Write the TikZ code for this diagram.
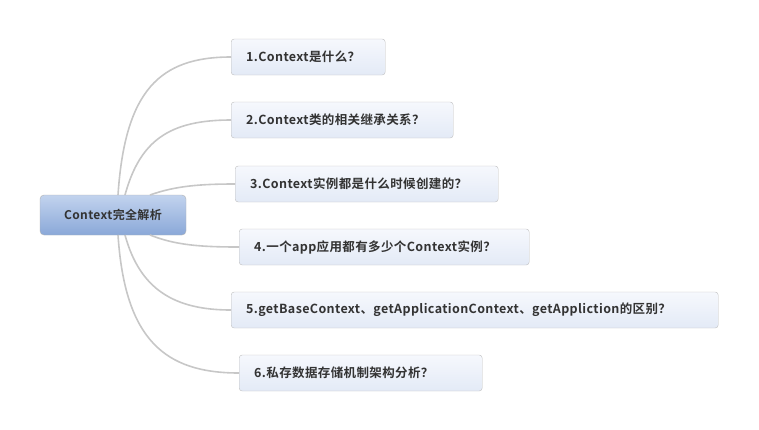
\documentclass[tikz,border=0pt]{standalone}
\usepackage{fontspec}
\setmainfont{Noto Sans CJK SC}[BoldFont={Noto Sans CJK SC Bold},LetterSpace=3]
\definecolor{rt}{HTML}{C2D3EE}
\definecolor{rb}{HTML}{8AA8D8}
\definecolor{tt}{HTML}{F6F8FD}
\definecolor{tb}{HTML}{E3EAF6}
\begin{document}
\begin{tikzpicture}[x=1pt,y=-1pt,
 topic/.style={draw=black!25,rounded corners=3pt,top color=tt,bottom color=tb,anchor=west,minimum height=36pt,inner xsep=0pt,align=left,font=\fontsize{12.5}{14}\selectfont\bfseries,text=black!80},
 br/.style={draw=black!22,line width=1.6pt}]
\useasboundingbox (0,0) rectangle (759,429);
\node[draw=black!30,rounded corners=4pt,top color=rt,bottom color=rb,minimum width=146pt,minimum height=40pt,font=\fontsize{12}{14}\selectfont\bfseries,text=black!80] (r) at (113,215) {Context完全解析};
\node[topic,text width=154pt] (a) at (231,57) {\hspace*{15pt}1.Context是什么？};
\node[topic,text width=222pt] (b) at (231,120) {\hspace*{15pt}2.Context类的相关继承关系？};
\node[topic,text width=263pt] (c) at (235,184) {\hspace*{15pt}3.Context实例都是什么时候创建的？};
\node[topic,text width=290pt] (d) at (239,247) {\hspace*{15pt}4.一个app应用都有多少个Context实例？};
\node[topic,text width=487pt] (e) at (231,310) {\hspace*{15pt}5.getBaseContext、getApplicationContext、getAppliction的区别？};
\node[topic,text width=243pt] (f) at (239,373) {\hspace*{15pt}6.私存数据存储机制架构分析？};
\begin{scope}[on background layer/.try]
\draw[br] (118,195) .. controls (125,90) and (160,57) .. (a.west);
\draw[br] (125,195) .. controls (140,140) and (170,120) .. (b.west);
\draw[br] (150,195) .. controls (175,186) and (200,184) .. (c.west);
\draw[br] (150,235) .. controls (175,245) and (200,247) .. (d.west);
\draw[br] (125,235) .. controls (140,290) and (175,310) .. (e.west);
\draw[br] (118,235) .. controls (125,340) and (165,373) .. (f.west);
\end{scope}
\end{tikzpicture}
\end{document}
